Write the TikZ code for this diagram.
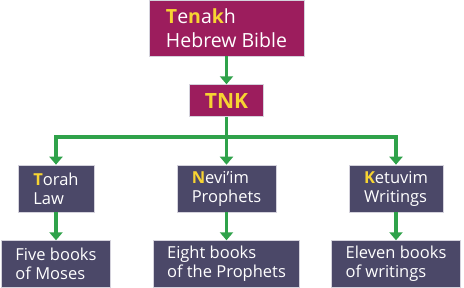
\documentclass[tikz,border=0pt]{standalone}
\usepackage{fontspec}
\setmainfont{Open Sans}
\usetikzlibrary{positioning,arrows.meta}
\definecolor{plum}{HTML}{9C1D5D}
\definecolor{slate}{HTML}{4B4868}
\definecolor{leaf}{HTML}{2FA24A}
\definecolor{gold}{HTML}{F7D432}
\definecolor{rim}{HTML}{D4D2DC}
\newcommand{\hi}[1]{\textcolor{gold}{\bfseries #1}}

\begin{document}
\begin{tikzpicture}[x=1pt,y=-1pt,
  title/.style={draw=rim,line width=0.6pt,fill=plum,text=white,align=left,inner sep=0pt,font=\fontsize{19.5}{24}\selectfont},
  book/.style={draw=rim,line width=0.6pt,fill=slate,text=white,align=left,inner sep=0pt,minimum height=47pt,font=\fontsize{16.5}{19}\selectfont},
  link/.style={leaf,line width=3.5pt},
  arr/.style={link,-{Triangle[width=13pt,length=8pt]}},
  node distance=28pt]
  \useasboundingbox (0,0) rectangle (464,288);
  % top of the tree
  \node[title,minimum width=155pt,minimum height=56pt] (tenakh) at (226.5,28) {\hi{T}e\hi{n}a\hi{k}h\\Hebrew Bible};
  \node[title,below=of tenakh,minimum width=74pt,minimum height=32pt,font=\fontsize{21}{22}\selectfont\bfseries] (tnk) {\hi{TNK}};
  % the three parts
  \node[book,minimum width=76pt] (torah) at (56,188.5) {\hi{T}orah\\Law};
  \node[book,minimum width=99pt] (neviim) at (226.5,188.5) {\hi{N}evi’im\\Prophets};
  \node[book,minimum width=94pt] (ketuvim) at (396,188.5) {\hi{K}etuvim\\Writings};
  % what they hold
  \node[book,below=of torah,minimum width=109pt] (moses) {Five books\\of Moses};
  \node[book,below=of neviim,minimum width=146pt] (prophets) {Eight books\\of the Prophets};
  \node[book,below=of ketuvim,minimum width=129pt] (writings) {Eleven books\\of writings};
  \coordinate (split) at (226.5,137);
  % arrows
  \draw[arr] (tenakh) -- (tnk);
  \draw[link] (tnk) -- (split);
  \draw[arr] (split) -| (torah);
  \draw[arr] (split) -- (neviim);
  \draw[arr] (split) -| (ketuvim);
  \draw[arr] (torah) -- (moses);
  \draw[arr] (neviim) -- (prophets);
  \draw[arr] (ketuvim) -- (writings);
\end{tikzpicture}
\end{document}
